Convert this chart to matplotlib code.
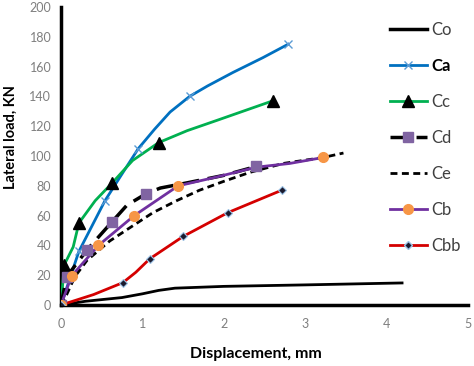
import matplotlib
matplotlib.use("Agg")
import matplotlib.pyplot as plt
from matplotlib.lines import Line2D

# ---- data ----
x_ticks = [0, 1, 2, 3, 4, 5]
y_ticks = [0, 20, 40, 60, 80, 100, 120, 140, 160, 180, 200]

co_x = [0, 0.3, 0.75, 1.0, 1.2, 1.4, 2.0, 3.0, 4.19]
co_y = [0, 2.5, 5.0, 7.5, 9.8, 11.3, 12.5, 13.5, 14.8]

ca_line_x = [0, 0.22, 0.54, 0.75, 0.95, 1.15, 1.34, 1.58, 1.8, 2.11, 2.48, 2.79]
ca_line_y = [0, 36, 70, 88, 105, 118, 129.5, 140, 147, 156, 166, 175]
ca_mark_x = [0, 0.22, 0.54, 0.95, 1.58, 2.79]
ca_mark_y = [0, 36, 70, 105, 140, 175]

cc_line_x = [0, 0.04, 0.15, 0.22, 0.42, 0.63, 0.88, 1.2, 1.55, 1.92, 2.6]
cc_line_y = [0, 27, 39, 55, 70, 82, 97, 109, 117, 124, 137]
cc_mark_x = [0, 0.04, 0.22, 0.63, 1.2, 2.6]
cc_mark_y = [0, 27, 55, 82, 109, 137]

cd_line_x = [0, 0.07, 0.32, 0.63, 0.81, 1.04, 1.22, 1.55, 2.0, 2.4]
cd_line_y = [0, 19, 37, 56, 67, 74.5, 78.5, 82, 87, 93]
cd_mark_x = [0, 0.07, 0.32, 0.63, 1.04, 2.4]
cd_mark_y = [0, 19, 37, 56, 74.5, 93]

ce_x = [0, 0.07, 0.17, 0.32, 0.6, 0.85, 1.13, 1.42, 1.7, 2.0, 2.32, 2.73, 3.22, 3.47]
ce_y = [0, 7, 19, 30, 43, 52, 62, 70, 77, 83, 89, 95, 99, 102]

cb_line_x = [0, 0.13, 0.46, 0.9, 1.44, 1.92, 2.4, 2.81, 3.22]
cb_line_y = [0, 19.5, 40, 60, 80, 86, 92.5, 95, 99]
cb_mark_x = [0, 0.13, 0.46, 0.9, 1.44, 3.22]
cb_mark_y = [0, 19.5, 40, 60, 80, 99]

cbb_line_x = [0, 0.4, 0.76, 0.92, 1.09, 1.5, 2.05, 2.71]
cbb_line_y = [0, 7, 15, 22, 31, 46, 62, 77]
cbb_mark_x = [0, 0.76, 1.09, 1.5, 2.05, 2.71]
cbb_mark_y = [0, 15, 31, 46, 62, 77]

# ---- styling ----
plt.rcParams['font.family'] = ['Lato', 'DejaVu Sans']

fig = plt.figure(figsize=(4.74, 3.66), dpi=100)
ax = fig.add_axes([61/474, 1-305/366, (468-61)/474, (305-7)/366])

BLUE = '#0070C0'
GREEN = '#00B050'
PURPLE = '#7030A0'
RED = '#D40000'

ax.plot(co_x, co_y, color='black', lw=2, zorder=3)

ax.plot(ca_line_x, ca_line_y, color=BLUE, lw=2, zorder=3)
ax.plot(ca_mark_x, ca_mark_y, ls='none', marker='x', ms=6, mew=1.0,
        color='#5B9BD5', zorder=4)

ax.plot(cc_line_x, cc_line_y, color=GREEN, lw=2, zorder=3)
ax.plot(cc_mark_x, cc_mark_y, ls='none', marker='^', ms=9, color='black', zorder=4)

ax.plot(cd_line_x, cd_line_y, color='black', lw=2.5, ls=(0, (5, 2.5)), zorder=3)
ax.plot(cd_mark_x, cd_mark_y, ls='none', marker='s', ms=7, color='#8064A2',
        mec='#8064A2', zorder=4)

ax.plot(ce_x, ce_y, color='black', lw=2, ls=(0, (2.5, 1.6)), zorder=3)

ax.plot(cb_line_x, cb_line_y, color=PURPLE, lw=2, zorder=3)
ax.plot(cb_mark_x, cb_mark_y, ls='none', marker='o', ms=7, color='#F79646',
        mec='#F79646', zorder=4)

ax.plot(cbb_line_x, cbb_line_y, color=RED, lw=2, zorder=3)
ax.plot(cbb_mark_x, cbb_mark_y, ls='none', marker='D', ms=4, color='#1a1a2e',
        mec='#9DC3E6', mew=0.8, zorder=4)

ax.set_xlim(0, 5)
ax.set_ylim(0, 200)
ax.set_xticks(x_ticks)
ax.set_yticks(y_ticks)
ax.tick_params(length=0, labelsize=9, labelcolor='#7F7F7F')
ax.tick_params(axis='y', pad=7)
ax.tick_params(axis='x', pad=9)
for s in ['top', 'right']:
    ax.spines[s].set_visible(False)
for s in ['left', 'bottom']:
    ax.spines[s].set_linewidth(2.5)
    ax.spines[s].set_color('black')

ax.set_xlabel('Displacement, mm', fontsize=11.5, fontweight='bold')
ax.set_ylabel('Lateral load, KN', fontsize=10.5, fontweight='bold')
ax.xaxis.set_label_coords(0.479, -0.142)
ax.yaxis.set_label_coords(-0.105, 0.564)

handles = [
    Line2D([], [], color='black', lw=2.5),
    Line2D([], [], color=BLUE, lw=2, marker='x', ms=6, mew=1.0, mec='#5B9BD5'),
    Line2D([], [], color=GREEN, lw=2, marker='^', ms=8, mfc='black', mec='black'),
    Line2D([], [], color='black', lw=2.5, ls=(0, (5, 2.5)), marker='s', ms=7,
           mfc='#8064A2', mec='#8064A2'),
    Line2D([], [], color='black', lw=2, ls=(0, (2.5, 1.6))),
    Line2D([], [], color=PURPLE, lw=2, marker='o', ms=7, mfc='#F79646', mec='#F79646'),
    Line2D([], [], color=RED, lw=2, marker='D', ms=4, mfc='#1a1a2e', mec='#9DC3E6'),
]
labels = ['Co', 'Ca', 'Cc', 'Cd', 'Ce', 'Cb', 'Cbb']
leg = fig.legend(handles, labels, loc='upper left',
                 bbox_to_anchor=(390/474, 1-22/366), frameon=False,
                 fontsize=12, handlelength=2.2, handletextpad=0.3,
                 labelspacing=1.2, borderpad=0, borderaxespad=0)
for t in leg.get_texts():
    t.set_color('#404040')
leg.get_texts()[1].set_fontweight('bold')
leg.get_texts()[1].set_color('black')

fig.savefig('out.png', dpi=100)
